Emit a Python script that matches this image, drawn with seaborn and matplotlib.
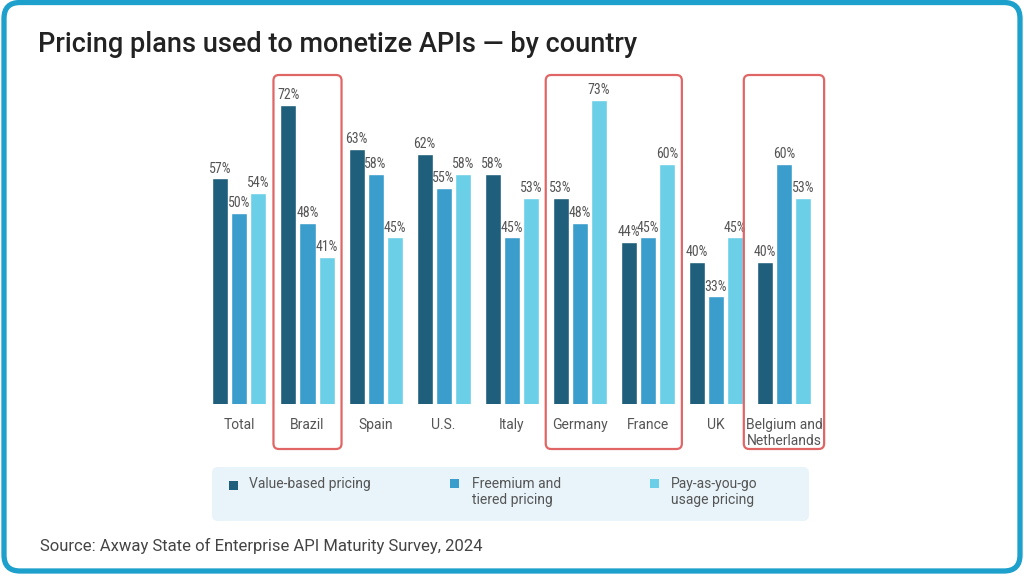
import matplotlib
matplotlib.use("Agg")
import matplotlib.pyplot as plt
import seaborn as sns
import pandas as pd
from matplotlib.patches import FancyBboxPatch, Rectangle
from matplotlib import font_manager

# ---------------- data ----------------
countries = ["Total", "Brazil", "Spain", "U.S.", "Italy", "Germany", "France", "UK",
             "Belgium and\nNetherlands"]
plans = ["Value-based pricing", "Freemium and\ntiered pricing", "Pay-as-you-go\nusage pricing"]
value_based = [57, 72, 63, 62, 58, 53, 44, 40, 40]
freemium = [50, 48, 58, 55, 45, 48, 45, 33, 60]
pay_as_you_go = [54, 41, 45, 58, 53, 73, 60, 45, 53]
colors = ["#1f5f7b", "#3a9dcb", "#6acfe7"]
# highlighted country ranges (first, last)
highlights = [("Brazil", "Brazil"), ("Germany", "France"),
              ("Belgium and\nNetherlands", "Belgium and\nNetherlands")]

title = "Pricing plans used to monetize APIs \u2014 by country"
source = "Source: Axway State of Enterprise API Maturity Survey, 2024"

# ---------------- style ----------------
sns.set_theme(style="white")
plt.rcParams["font.family"] = ["Roboto", "DejaVu Sans"]

narrow_family, narrow_stretch = "Roboto", "normal"
fl = font_manager.fontManager.ttflist
for cand in ["Roboto Condensed", "Liberation Sans Narrow", "Open Sans Condensed", "DejaVu Sans Condensed"]:
    if any(f.name == cand for f in fl):
        narrow_family = cand
        break
else:
    cond = [f for f in fl if str(f.stretch) in ("condensed", "semi-condensed", "550", "500", "600", "700")
            and f.name in ("Roboto", "Open Sans", "DejaVu Sans", "Noto Sans", "Liberation Sans")]
    if cond:
        narrow_family, narrow_stretch = cond[0].name, "condensed"

rows = []
for series, vals in zip(plans, [value_based, freemium, pay_as_you_go]):
    for c, v in zip(countries, vals):
        rows.append({"country": c, "plan": series, "value": v})
df = pd.DataFrame(rows)

W, H = 1024, 576
fig = plt.figure(figsize=(W / 100, H / 100), dpi=100)
fig.patch.set_facecolor("white")

y_min, y_max = 11, 74.4
ax_l, ax_r, ax_b, ax_t = 205.4, 818.0, 404.3, 93.0
ax = fig.add_axes([ax_l / W, 1 - ax_b / H, (ax_r - ax_l) / W, (ax_b - ax_t) / H])
sns.barplot(data=df, x="country", y="value", hue="plan", order=countries, hue_order=plans,
            palette=colors, width=0.84, gap=0.16, saturation=1, ax=ax, legend=False)
ax.set_xlim(-0.5, len(countries) - 0.5)
ax.set_ylim(y_min, y_max)
ax.set_facecolor("none")
for s in ax.spines.values():
    s.set_visible(False)
ax.set_yticks([])
ax.set_xlabel("")
ax.set_ylabel("")
ax.tick_params(axis="x", length=0, pad=10, labelsize=10, labelcolor="#555555")

for cont in ax.containers:
    ax.bar_label(cont, labels=[f"{b.get_height():.0f}%" for b in cont], padding=2,
                 fontsize=10, color="#555555", family=narrow_family,
                 fontstretch=narrow_stretch)

# highlight boxes around selected countries
px_per_x = (ax_r - ax_l) / len(countries)
px_per_y = (ax_b - ax_t) / (y_max - y_min)
aspect = px_per_x / px_per_y
y_top = y_min + (ax_b - 75) / px_per_y
y_bot = y_min + (ax_b - 449) / px_per_y
for first, last in highlights:
    i0, i1 = countries.index(first), countries.index(last)
    extra = 0.09 if "\n" in first else 0.0
    x0 = i0 - 0.5 - extra
    x1 = i1 + 0.5 + extra
    ax.add_patch(FancyBboxPatch((x0, y_bot), x1 - x0, y_top - y_bot,
                                boxstyle="round,pad=0,rounding_size=0.08",
                                mutation_aspect=aspect, fill=False, ec="#e06666",
                                lw=1.6, clip_on=False, transform=ax.transData, zorder=5))

# outer frame
fa = W / H
def fx(p): return p / W
def fy(p): return 1 - p / H
fig.patches.append(FancyBboxPatch((fx(4), fy(571)), fx(1020) - fx(4), fy(2.5) - fy(571),
                                  boxstyle=f"round,pad=0,rounding_size={16 / W}",
                                  mutation_aspect=fa, fill=False, ec="#1ea0cc", lw=3.8,
                                  transform=fig.transFigure, figure=fig))

# legend panel
fig.patches.append(FancyBboxPatch((fx(212), fy(521)), fx(809) - fx(212), fy(467) - fy(521),
                                  boxstyle=f"round,pad=0,rounding_size={6 / W}",
                                  mutation_aspect=fa, fc="#e8f4f9", ec="none",
                                  transform=fig.transFigure, figure=fig, zorder=0))
leg_sq_x = [229, 450, 650]
leg_txt_x = [249, 472, 671]
leg_sq_y = [481, 479, 479]
for col, lab, sx, tx, sy in zip(colors, plans, leg_sq_x, leg_txt_x, leg_sq_y):
    fig.patches.append(Rectangle((fx(sx), fy(sy + 9)), 9 / W, 9 / H, fc=col, ec="none",
                                 transform=fig.transFigure, figure=fig, zorder=2))
    fig.text(fx(tx), fy(477), lab, ha="left", va="top", fontsize=10, color="#555555",
             linespacing=1.2)

fig.text(fx(38), fy(45), title, ha="left", va="center", fontsize=19.5, color="#222222",
         fontweight="medium")
fig.text(fx(40), fy(546), source, ha="left", va="center", fontsize=12, color="#444444")

fig.savefig("out.png", dpi=100, facecolor="white")
